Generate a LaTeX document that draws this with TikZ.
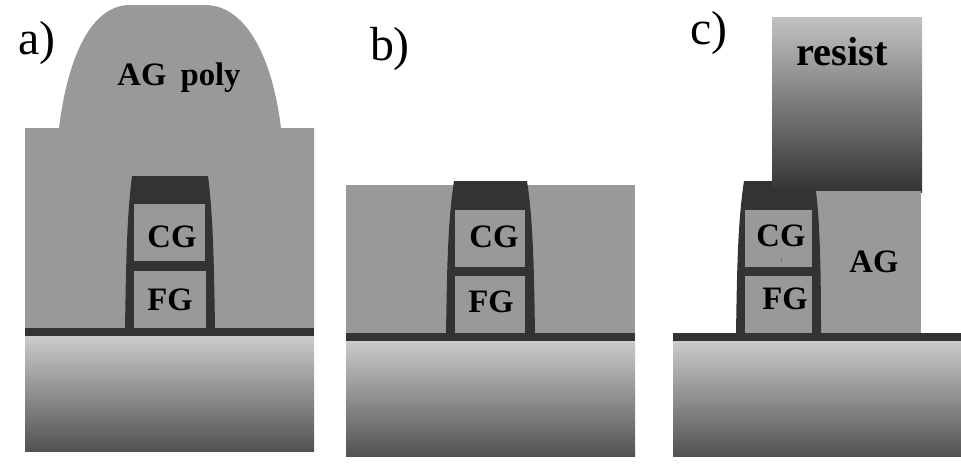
\documentclass[tikz,border=0pt]{standalone}
\usepackage{fontspec}
\setmainfont{Liberation Serif}
\definecolor{polygray}{HTML}{999999}
\definecolor{oxidegray}{HTML}{333333}
\tikzset{
  poly/.style={fill=polygray, draw=none},
  oxide/.style={fill=oxidegray, draw=none},
  substrate/.style={top color=black!20, bottom color=black!68, draw=none},
  resistblock/.style={top color=black!24, bottom color=black!80, draw=none},
  gatelabel/.style={font=\fontsize{9.3pt}{10pt}\selectfont\bfseries, text=black, inner sep=0pt},
  panellabel/.style={font=\fontsize{13.6pt}{14pt}\selectfont, text=black, inner sep=0pt}
}
\begin{document}
\begin{tikzpicture}[x=0.01cm, y=-0.01cm]
\useasboundingbox[fill=white] (0,0) rectangle (961,469);
% panel a
\draw[poly] (25,333) -- (25,128) -- (59,128) .. controls (68,55) and (92,5) .. (130,5) -- (205,5) .. controls (245,5) and (272,55) .. (281,128) -- (314,128) -- (314,333) -- cycle;
\shade[substrate] (25,335) rectangle (314,451);
\draw[oxide] (25,328) rectangle (314,336);
\draw[oxide] (125,330) .. controls (126,260) and (127,215) .. (132,176) -- (208,176) .. controls (213,215) and (214,260) .. (215,330) -- cycle;
\draw[poly] (134,204) rectangle (205,261);
\draw[poly] (134,271) rectangle (206,328);
\node[panellabel] (labela) at (37,43) {a)};
\node[gatelabel] (agpoly) at (179,78) {AG\kern4pt poly};
\node[gatelabel] (cga) at (172,237) {CG};
\node[gatelabel] (fga) at (170,300) {FG};
% panel b
\draw[poly] (346,185) rectangle (635,335);
\shade[substrate] (346,340) rectangle (635,456);
\draw[oxide] (346,333) rectangle (635,341);
\draw[oxide] (446,335) .. controls (447,265) and (448,220) .. (454,181) -- (527,181) .. controls (533,220) and (534,265) .. (535,335) -- cycle;
\draw[poly] (455,210) rectangle (525,267);
\draw[poly] (455,276) rectangle (525,333);
\node[panellabel] (labelb) at (390,49) {b)};
\node[gatelabel] (cgb) at (494,237) {CG};
\node[gatelabel] (fgb) at (491,302) {FG};
% panel c
\shade[substrate] (673,340) rectangle (961,456);
\draw[oxide] (673,333) rectangle (961,341);
\shade[resistblock] (772,17) rectangle (922,192);
\draw[poly] (800,191) rectangle (921,333);
\draw[oxide] (736,335) .. controls (737,265) and (738,220) .. (744,181) -- (772,181) -- (772,191) -- (816,191) .. controls (820,225) and (821,270) .. (821,335) -- cycle;
\draw[poly] (745,210) rectangle (812,267);
\draw[poly] (745,276) rectangle (812,333);
\draw[oxidegray!70, line width=0.2pt] (781,258) -- (781,262);
\node[panellabel] (labelc) at (709,33) {c)};
\node[gatelabel, font=\fontsize{11.5pt}{12pt}\selectfont\bfseries] (resisttext) at (842,52) {resist};
\node[gatelabel] (cgc) at (781,236) {CG};
\node[gatelabel] (fgc) at (785,299) {FG};
\node[gatelabel] (agc) at (874,262) {AG};
\end{tikzpicture}
\end{document}
